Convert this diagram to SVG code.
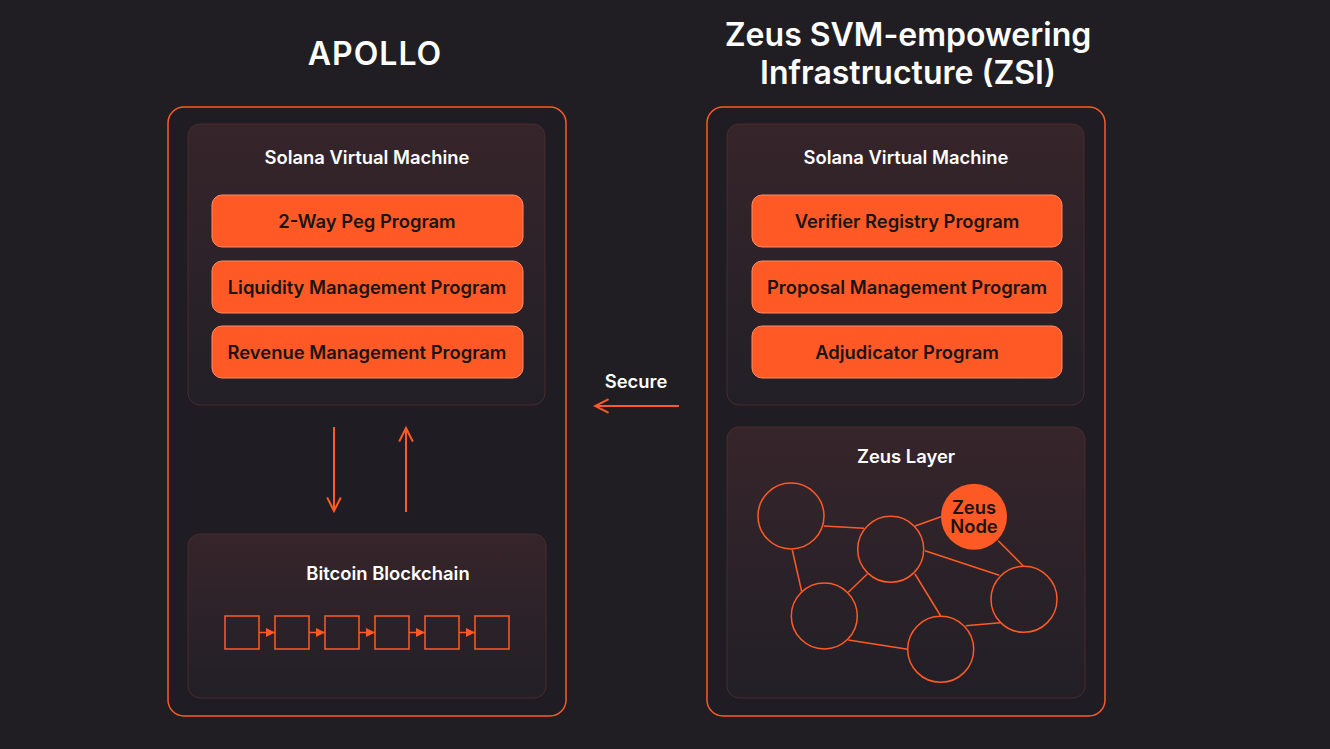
<svg xmlns="http://www.w3.org/2000/svg" width="1330" height="749" viewBox="0 0 1330 749">
<defs>
<linearGradient id="g" x1="0" y1="0" x2="0" y2="1">
<stop offset="0" stop-color="#36252a"/>
<stop offset="1" stop-color="#221f27"/>
</linearGradient>
<marker id="tri2" viewBox="0 0 10 10" refX="10" refY="5" markerWidth="9" markerHeight="9" orient="auto" markerUnits="userSpaceOnUse">
<path d="M0,0 L10,5 L0,10 z" fill="#ff5a25"/>
</marker>
<marker id="chev" viewBox="0 0 20 20" refX="18" refY="10" markerWidth="16" markerHeight="16" orient="auto" markerUnits="userSpaceOnUse">
<path d="M2,2 L18,10 L2,18" fill="none" stroke="#ff5a25" stroke-width="2.5" stroke-linecap="round"/>
</marker>
</defs>
<style>
.t{font-family:Inter,"Liberation Sans",sans-serif;font-weight:600;text-anchor:middle}
.title{font-size:32px;fill:#ffffff}
.h{font-size:18.4px;fill:#ffffff}
.b{font-size:18.4px;fill:#1a1414}
.outer{fill:#1f1d23;stroke:#ff5a25;stroke-width:1.5}
.inner{fill:url(#g);stroke:#4a2b2b;stroke-width:1}
.btn{fill:#ff5a25;stroke:#ff8a66;stroke-width:1}
.ln{stroke:#ff5a25;stroke-width:1.5;fill:none}
.blk{fill:none;stroke:#ff5a25;stroke-width:1.5}
.arr{stroke:#ff5a25;stroke-width:2;fill:none}
</style>
<rect width="1330" height="749" fill="#201e23"/>

<g id="title-apollo"><text class="t title" x="375" y="65" letter-spacing="1">APOLLO</text></g>
<g id="title-zsi">
<text class="t title" x="908" y="46">Zeus SVM-empowering</text>
<text class="t title" x="908" y="84">Infrastructure (ZSI)</text>
</g>

<g id="apollo">
<rect class="outer" x="168" y="107" width="398" height="609" rx="16"/>
</g>
<g id="apollo-svm">
<rect class="inner" x="188" y="124" width="357" height="281" rx="12"/>
<text class="t h" x="367" y="164">Solana Virtual Machine</text>
</g>
<g id="peg"><rect class="btn" x="212" y="195" width="311" height="52" rx="10"/><text class="t b" x="367" y="228">2-Way Peg Program</text></g>
<g id="liquidity"><rect class="btn" x="212" y="261" width="311" height="52" rx="10"/><text class="t b" x="367" y="294">Liquidity Management Program</text></g>
<g id="revenue"><rect class="btn" x="212" y="326" width="311" height="52" rx="10"/><text class="t b" x="367" y="359">Revenue Management Program</text></g>

<g id="bitcoin">
<rect class="inner" x="188" y="534" width="358" height="164" rx="12"/>
<text class="t h" x="388" y="580">Bitcoin Blockchain</text>
<rect class="blk" x="225" y="616" width="34" height="33"/>
<rect class="blk" x="275" y="616" width="34" height="33"/>
<rect class="blk" x="325" y="616" width="34" height="33"/>
<rect class="blk" x="375" y="616" width="34" height="33"/>
<rect class="blk" x="425" y="616" width="34" height="33"/>
<rect class="blk" x="475" y="616" width="34" height="33"/>
</g>

<g id="zsi">
<rect class="outer" x="707" y="107" width="398" height="609" rx="16"/>
</g>
<g id="zsi-svm">
<rect class="inner" x="727" y="124" width="357" height="281" rx="12"/>
<text class="t h" x="906" y="164">Solana Virtual Machine</text>
</g>
<g id="verifier"><rect class="btn" x="752" y="195" width="310" height="52" rx="10"/><text class="t b" x="907" y="228">Verifier Registry Program</text></g>
<g id="proposal"><rect class="btn" x="752" y="261" width="310" height="52" rx="10"/><text class="t b" x="907" y="294">Proposal Management Program</text></g>
<g id="adjudicator"><rect class="btn" x="752" y="326" width="310" height="52" rx="10"/><text class="t b" x="907" y="359">Adjudicator Program</text></g>

<g id="zeus-layer">
<rect class="inner" x="727" y="427" width="358" height="271" rx="12"/>
<text class="t h" x="906" y="463">Zeus Layer</text>
<g id="zeus-net-lines">
<line class="ln" x1="823.7" y1="526" x2="864" y2="528.3"/>
<line class="ln" x1="792.3" y1="550" x2="801.7" y2="591.7"/>
<line class="ln" x1="915" y1="526" x2="941" y2="516.7"/>
<line class="ln" x1="925" y1="550.7" x2="999.3" y2="575.3"/>
<line class="ln" x1="867.3" y1="574" x2="848.3" y2="592.3"/>
<line class="ln" x1="915" y1="574" x2="940.7" y2="616"/>
<line class="ln" x1="998.3" y1="540.7" x2="1023.3" y2="566"/>
<line class="ln" x1="848.3" y1="640" x2="907.7" y2="649.3"/>
<line class="ln" x1="965.7" y1="625.7" x2="1000" y2="622.7"/>
</g>
<circle class="ln" cx="791" cy="516" r="33"/>
<circle class="ln" cx="890.7" cy="549.3" r="33"/>
<circle class="ln" cx="824.3" cy="616" r="33"/>
<circle class="ln" cx="1024" cy="599.3" r="33"/>
<circle class="ln" cx="940.7" cy="649.3" r="33"/>
</g>
<g id="zeus-node">
<circle cx="974" cy="516.7" r="33" fill="#ff5a25"/>
<text class="t b" x="974" y="513.5" font-size="15.5">Zeus</text>
<text class="t b" x="974" y="533" font-size="15.5">Node</text>
</g>

<g id="connectors">
<line class="arr" x1="334" y1="427" x2="334" y2="511" marker-end="url(#chev)"/>
<line class="arr" x1="406" y1="512" x2="406" y2="428" marker-end="url(#chev)"/>
<line class="arr" x1="679" y1="406" x2="595" y2="406" marker-end="url(#chev)"/>
<line class="ln" x1="259" y1="632.5" x2="275" y2="632.5" marker-end="url(#tri2)"/>
<line class="ln" x1="309" y1="632.5" x2="325" y2="632.5" marker-end="url(#tri2)"/>
<line class="ln" x1="359" y1="632.5" x2="375" y2="632.5" marker-end="url(#tri2)"/>
<line class="ln" x1="409" y1="632.5" x2="425" y2="632.5" marker-end="url(#tri2)"/>
<line class="ln" x1="459" y1="632.5" x2="475" y2="632.5" marker-end="url(#tri2)"/>
</g>
<g id="secure-label"><text class="t h" x="636" y="388">Secure</text></g>
</svg>
